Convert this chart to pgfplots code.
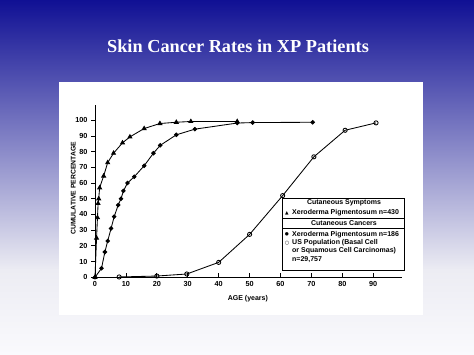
\documentclass[border=0pt]{standalone}
\usepackage{pgfplots}
\pgfplotsset{compat=1.18}
\usepackage{fontspec}
\setmainfont{Liberation Sans}
\newfontfamily\titlefont{Liberation Serif}
\newfontfamily\symfont{DejaVu Sans}
\definecolor{bgtop}{RGB}{16,16,148}
\definecolor{bgmid}{RGB}{160,160,200}
\definecolor{bgbot}{RGB}{236,236,243}
\definecolor{bgend}{RGB}{250,250,253}
\begin{document}
\begin{tikzpicture}[x=1pt,y=1pt]
\shade[top color=bgtop, middle color=bgmid, bottom color=bgbot] (0pt,85pt) rectangle (474pt,355pt);
\shade[top color=bgbot, bottom color=bgend] (0pt,0pt) rectangle (474pt,85.2pt);
\fill[white] (59pt,40pt) rectangle (423pt,273pt);
\node[anchor=base, text=white, font=\titlefont\bfseries\fontsize{18.3}{20}\selectfont] at (238pt,302.3pt) {Skin Cancer Rates in XP Patients};
\begin{axis}[
  at={(95pt,77.7pt)}, anchor=south west,
  scale only axis, width=307pt, height=172pt,
  xmin=0, xmax=99.3, ymin=0, ymax=109.5,
  axis x line=bottom, axis y line=left,
  axis line style={-, line width=0.9pt},
  every outer x axis line/.append style={-},
  every outer y axis line/.append style={-},
  xtick={0,10,...,90}, ytick={0,10,...,100},
  xtick align=inside, ytick align=outside,
  major tick length=4pt,
  tick style={black, line width=0.8pt},
  /pgf/number format/assume math mode=true,
  ticklabel style={font=\bfseries\fontsize{7.3}{8}\selectfont},
  xticklabel style={yshift=-1pt},
  xlabel={AGE (years)},
  xlabel style={at={(axis description cs:0.498,-0.125)}, anchor=center, font=\bfseries\fontsize{7}{8}\selectfont},
  ylabel={CUMULATIVE PERCENTAGE},
  ylabel style={at={(axis description cs:-0.0707,0.517)}, anchor=center, font=\bfseries\fontsize{6.8}{8}\selectfont},
  clip=false,
]
\addplot[black, line width=0.85pt, mark=triangle*, mark size=2.2pt, mark options={solid}] coordinates {
(0,0) (0.5,25) (0.8,38) (1.0,47) (1.2,50) (1.5,57) (2.8,64.5) (4.1,73) (6,79) (8.9,85.6) (11.3,89.4) (15.9,94.7) (21,97.9) (26.3,98.7) (31,99.2) (46,99.2)};
\addplot[black, line width=0.85pt, mark=*, mark size=1.8pt, mark options={solid}] coordinates {
(0,0) (2.1,5.7) (3.2,16.1) (4.1,23.1) (5.2,31.1) (6.2,38.6) (7.5,46) (8.4,50) (9.2,55) (10.5,60) (12.7,64) (15.9,71) (18.9,79) (21.1,84) (26.3,90.7) (32.3,94.3) (46,98.2) (51,98.5) (70.4,98.7)};
\addplot[black, line width=0.85pt, mark=o, mark size=2.1pt, mark options={solid, fill=white}] coordinates {
(7.8,0.2) (20,0.8) (29.7,2.1) (40,9.5) (50,27.3) (60.7,52) (70.8,76.7) (80.9,93.6) (90.9,98.3)};
\end{axis}
% legend box
\fill[white] (282pt,85pt) rectangle (404pt,157pt);
\draw[black, line width=0.9pt] (282pt,85pt) rectangle (404pt,157pt);
\draw[black, line width=0.7pt] (282pt,137pt) -- (404pt,137pt);
\draw[black, line width=0.7pt] (282pt,126.5pt) -- (404pt,126.5pt);
\begin{scope}[every node/.style={font=\bfseries\fontsize{7}{7}\selectfont, inner sep=0pt}]
\node[anchor=base] at (344pt,150.5pt) {Cutaneous Symptoms};
\node[anchor=base west] at (292pt,140.5pt) {Xeroderma Pigmentosum n=430};
\node[anchor=base] at (344pt,129.5pt) {Cutaneous Cancers};
\node[anchor=base west] at (292pt,118.5pt) {Xeroderma Pigmentosum n=186};
\node[anchor=base west] at (292pt,110.3pt) {US Population (Basal Cell};
\node[anchor=base west] at (292pt,102pt) {or Squamous Cell Carcinomas)};
\node[anchor=base west] at (292pt,93.8pt) {n=29,757};
\node[anchor=base, font=\symfont\fontsize{4.6}{5}\selectfont] at (287pt,140.8pt) {▲};
\node[anchor=base, font=\symfont\fontsize{4.6}{5}\selectfont] at (287pt,119pt) {●};
\node[anchor=base, font=\symfont\fontsize{5}{5}\selectfont] at (287pt,110.8pt) {○};
\end{scope}
\end{tikzpicture}
\end{document}
